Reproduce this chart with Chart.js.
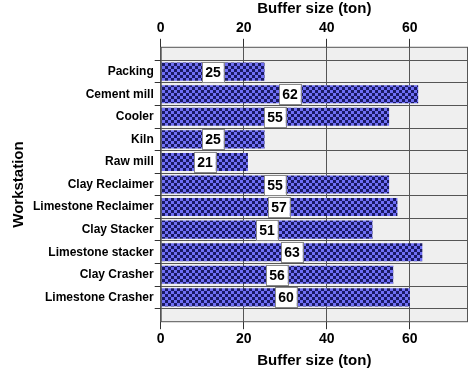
<!DOCTYPE html>
<html>
<head>
<meta charset="utf-8">
<script src="https://cdn.jsdelivr.net/npm/chart.js@4/dist/chart.umd.min.js"></script>
<style>
    html, body { margin: 0; padding: 0; background: #ffffff; }
    #wrap { width: 474px; height: 379px; }
</style>
</head>
<body>
<div id="wrap"><canvas id="bufferChart" width="474" height="379"></canvas></div>
<script>

// ================= DATA =================

const workstations = [
    "Packing",
    "Cement mill",
    "Cooler",
    "Kiln",
    "Raw mill",
    "Clay Reclaimer",
    "Limestone Reclaimer",
    "Clay Stacker",
    "Limestone stacker",
    "Clay Crasher",
    "Limestone Crasher"
];

const bufferSizes = [25, 62, 55, 25, 21, 55, 57, 51, 63, 56, 60];

const xTicks = [0, 20, 40, 60];

const axisMax = 74;


// ================= CHECKER PATTERN =================

function makeChecker() {
    const c = document.createElement("canvas");
    c.width = 6;
    c.height = 6;
    const g = c.getContext("2d");
    g.fillStyle = "#1a1a66";
    g.fillRect(0, 0, 6, 6);
    g.fillStyle = "#6f6ff5";
    g.fillRect(0, 0, 3, 3);
    g.fillRect(3, 3, 3, 3);
    return g.createPattern(c, "repeat");
}


// ================= PLUGINS =================

const plotBackground = {
    id: "plotBackground",
    beforeDraw(chart) {
        const { ctx, chartArea: a } = chart;
        ctx.save();
        ctx.fillStyle = "#efefef";
        ctx.fillRect(a.left, a.top, a.right - a.left, a.bottom - a.top);
        ctx.restore();
    },
    afterDatasetsDraw(chart) {
        const { ctx, chartArea: a } = chart;
        ctx.save();
        ctx.strokeStyle = "#555555";
        ctx.lineWidth = 1;
        ctx.strokeRect(a.left + 0.5, a.top + 0.5, a.right - a.left - 1, a.bottom - a.top - 1);
        ctx.restore();
    }
};

const valueBoxes = {
    id: "valueBoxes",
    afterDatasetsDraw(chart) {
        const { ctx } = chart;
        const meta = chart.getDatasetMeta(0);
        ctx.save();
        ctx.font = "bold 14px 'Liberation Sans', Arial, sans-serif";
        ctx.textAlign = "center";
        ctx.textBaseline = "middle";
        meta.data.forEach((bar, i) => {
            const text = String(bufferSizes[i]);
            const cx = Math.round((bar.x + bar.base) / 2);
            const cy = Math.round(bar.y);
            const w = ctx.measureText(text).width + 6;
            const h = 20;
            ctx.fillStyle = "#ffffff";
            ctx.fillRect(cx - w / 2, cy - h / 2, w, h);
            ctx.strokeStyle = "#888888";
            ctx.lineWidth = 1;
            ctx.strokeRect(Math.round(cx - w / 2) + 0.5, cy - h / 2 + 0.5, Math.round(w), h);
            ctx.fillStyle = "#000000";
            ctx.fillText(text, cx, cy + 1);
        });
        ctx.restore();
    }
};


// ================= BAR CHART =================

const fontFamily = "'Liberation Sans', Arial, sans-serif";

const onlyListed = (axis) => {
    axis.ticks = axis.ticks.filter(t => xTicks.includes(t.value));
};

const categoryTicks = (axis) => {
    axis.ticks = workstations.map((name, i) => ({ value: i }));
};

new Chart(document.getElementById("bufferChart"), {

    type: "bar",

    data: {
        datasets: [{
            data: bufferSizes.map((v, i) => ({ x: v, y: i })),
            backgroundColor: makeChecker(),
            borderWidth: 0,
            categoryPercentage: 1,
            barPercentage: 0.8
        }]
    },

    plugins: [plotBackground, valueBoxes],

    options: {
        indexAxis: "y",
        responsive: false,
        animation: false,
        layout: { padding: { left: 10, right: 6, top: 0, bottom: 9 } },
        plugins: {
            legend: { display: false },
            tooltip: { enabled: false }
        },
        scales: {
            x: {
                position: "bottom",
                min: 0,
                max: axisMax,
                afterBuildTicks: onlyListed,
                ticks: {
                    stepSize: 20,
                    color: "#000000",
                    padding: 2,
                    font: { family: fontFamily, size: 14, weight: "bold" }
                },
                grid: { color: "#555555", tickLength: 7, tickColor: "#333333" },
                border: { display: false },
                title: {
                    display: true,
                    text: "Buffer size (ton)",
                    color: "#000000",
                    padding: { top: 2, bottom: 0 },
                    font: { family: fontFamily, size: 15, weight: "bold" }
                }
            },
            x2: {
                position: "top",
                min: 0,
                max: axisMax,
                afterBuildTicks: onlyListed,
                ticks: {
                    stepSize: 20,
                    color: "#000000",
                    padding: 2,
                    font: { family: fontFamily, size: 14, weight: "bold" }
                },
                grid: { drawOnChartArea: false, tickLength: 8, tickColor: "#333333" },
                border: { display: false },
                title: {
                    display: true,
                    text: "Buffer size (ton)",
                    color: "#000000",
                    padding: { top: 0, bottom: 0 },
                    font: { family: fontFamily, size: 15, weight: "bold" }
                }
            },
            y: {
                type: "linear",
                reverse: true,
                offset: false,
                min: -1.1,
                max: 11.1,
                afterBuildTicks: categoryTicks,
                ticks: {
                    color: "#000000",
                    padding: 1,
                    autoSkip: false,
                    callback: (value) => workstations[value],
                    font: { family: fontFamily, size: 12, weight: "bold" }
                },
                grid: { color: "#555555", tickLength: 6, tickColor: "#333333" },
                border: { display: false },
                title: {
                    display: true,
                    text: "Workstation",
                    color: "#000000",
                    padding: { top: 0, bottom: 4 },
                    font: { family: fontFamily, size: 15, weight: "bold" }
                }
            }
        }
    }

});

</script>
</body>
</html>
